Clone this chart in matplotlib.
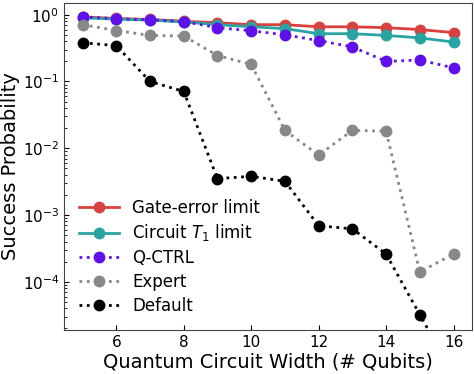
import matplotlib
matplotlib.use('Agg')
import matplotlib.pyplot as plt

# Circuit width (# qubits)
widths = [5, 6, 7, 8, 9, 10, 11, 12, 13, 14, 15, 16]

gate_error_limit = [0.93, 0.88, 0.85, 0.80, 0.76, 0.71, 0.71, 0.66, 0.66, 0.64, 0.60, 0.54]
circuit_t1_limit = [0.90, 0.86, 0.83, 0.78, 0.71, 0.66, 0.62, 0.52, 0.52, 0.49, 0.45, 0.39]
qctrl = [0.93, 0.87, 0.84, 0.79, 0.64, 0.575, 0.50, 0.41, 0.33, 0.20, 0.21, 0.16]
expert = [0.71, 0.58, 0.49, 0.48, 0.245, 0.18, 0.0185, 0.0079, 0.0185, 0.018, 1.4e-4, 2.6e-4]
default = [0.38, 0.345, 0.10, 0.071, 0.0035, 0.0038, 0.0032, 6.9e-4, 6.2e-4, 2.6e-4, 3.2e-5, 4e-6]

fig = plt.figure(figsize=(4.74, 3.74), dpi=100)
ax = fig.add_axes([0.135, 0.118, 0.861, 0.874])

ms = 7.5
ax.plot(widths, gate_error_limit, "-o", color="#d9413f", lw=2, ms=ms, label="Gate-error limit")
ax.plot(widths, circuit_t1_limit, "-o", color="#2aa3a3", lw=2, ms=ms, label="Circuit $T_1$ limit")
ax.plot(widths, qctrl, ":o", color="#6010e8", lw=2, ms=ms, label="Q-CTRL")
ax.plot(widths, expert, ":o", color="#888888", lw=2, ms=ms, label="Expert")
ax.plot(widths, default, ":o", color="black", lw=2, ms=ms, label="Default")

ax.set_yscale("log")
ax.set_xlim(4.45, 16.55)
ax.set_ylim(1.9e-5, 1.5)
ax.set_xticks([6, 8, 10, 12, 14, 16])
ax.tick_params(which="both", direction="in", labelsize=11)
ax.set_xlabel("Quantum Circuit Width (# Qubits)", fontsize=14, labelpad=2)
ax.set_ylabel("Success Probability", fontsize=14, labelpad=2)

for s in ax.spines.values():
    s.set_color("#444444")

ax.legend(loc="lower left", frameon=False, fontsize=12, handlelength=2.4,
          borderaxespad=0.5, labelspacing=0.35)

fig.savefig("out.png", dpi=100)
